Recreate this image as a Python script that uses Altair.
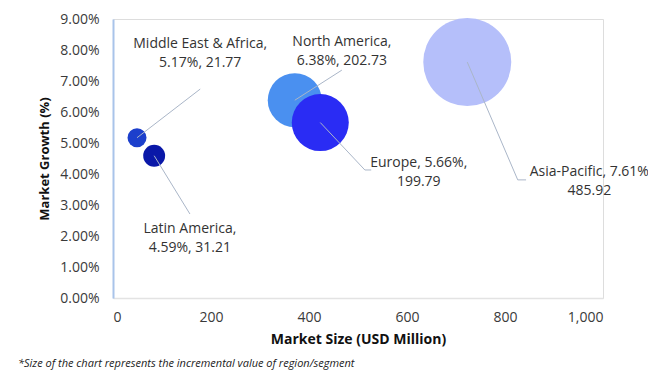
import altair as alt
import pandas as pd

# Data
regions = ["Middle East & Africa", "Latin America", "North America", "Europe", "Asia-Pacific"]
market_size = [49, 84, 371, 423, 723]            # x position (USD Million)
market_growth = [5.17, 4.59, 6.38, 5.66, 7.61]   # y position (%)
label_value = [21.77, 31.21, 202.73, 199.79, 485.92]
incremental = [3.6, 4.8, 29.2, 32.5, 77.4]       # bubble size (incremental value)
colors = ["#1c3fcc", "#0a18a8", "#4a90f0", "#2a2cf4", "#b5bffa"]

# label anchors (data units, first line) and leader-line ends
label_x = [178, 157, 467, 624, 972]
label_y = [8.19, 2.23, 8.26, 4.35, 4.06]
line_end_x = [178, 157, 467, 514, 826]
line_end_y = [6.74, 2.71, 7.35, 4.13, 3.81]
elbow_end_x = [178, 157, 467, 527, 843]

lines = [
    ["Middle East & Africa,", "5.17%, 21.77"],
    ["Latin America,", "4.59%, 31.21"],
    ["North America,", "6.38%, 202.73"],
    ["Europe, 5.66%,", "199.79"],
    ["Asia-Pacific,  7.61%", "485.92"],
]

df = pd.DataFrame({
    "region": regions,
    "size": market_size,
    "growth": [g / 100 for g in market_growth],
    "inc": incremental,
    "lx": label_x,
    "ly": [v / 100 for v in label_y],
    "ex": line_end_x,
    "ey": [v / 100 for v in line_end_y],
    "ex2": elbow_end_x,
    "label": lines,
})

FONT = "Open Sans"

xscale = alt.Scale(domain=[0, 1000], nice=False, zero=True)
yscale = alt.Scale(domain=[0, 0.09], nice=False)

base = alt.Chart(df)

points = base.mark_circle(opacity=1).encode(
    x=alt.X("size:Q", scale=xscale,
            axis=alt.Axis(title="Market Size (USD Million)", tickCount=5,
                          format=",.0f", grid=False, ticks=False, domainColor="#e3e3e3",
                          domainWidth=1.5, labelPadding=12, titlePadding=8, labelOverlap=False,
                          labelFontSize=14, titleFontSize=14, labelColor="#3a3a3a",
                          titleColor="#111", titleFontWeight="bold", labelFont=FONT, titleFont=FONT)),
    y=alt.Y("growth:Q", scale=yscale,
            axis=alt.Axis(title="Market Growth (%)", tickCount=9,
                          format=".2%", grid=False, ticks=False, domainColor="#a9c4ea",
                          domainWidth=2, labelPadding=14, titlePadding=8, labelOverlap=False,
                          labelSeparation=0,
                          labelFontSize=14, titleFontSize=13, labelColor="#3a3a3a",
                          titleColor="#111", titleFontWeight="bold", labelFont=FONT, titleFont=FONT)),
    size=alt.Size("inc:Q", scale=alt.Scale(domain=[0, 77.4], range=[0, 7744]), legend=None),
    color=alt.Color("region:N", scale=alt.Scale(domain=regions, range=colors), legend=None),
)

leader = base.mark_rule(color="#aab6c8", strokeWidth=1).encode(
    x="size:Q", y="growth:Q", x2="ex:Q", y2="ey:Q"
)
elbow = base.mark_rule(color="#aab6c8", strokeWidth=1).encode(
    x="ex:Q", y="ey:Q", x2="ex2:Q"
)

labels = base.mark_text(font=FONT, fontSize=14, color="#333", align="center",
                        baseline="middle", lineHeight=19).encode(
    x="lx:Q", y="ly:Q", text="label"
)

chart = alt.layer(points, leader, elbow, labels).properties(
    width=490, height=279,
    autosize=alt.AutoSizeParams(type="none"),
    padding={"left": 105, "top": 11, "right": 45, "bottom": 73},
    title=alt.TitleParams(
        "*Size of the chart represents the incremental value of region/segment",
        orient="bottom", anchor="start", frame="group", fontSize=11, fontStyle="italic",
        fontWeight="normal", font=FONT, color="#222", dx=-95, offset=12,
    ),
).configure_view(stroke=None).configure(background="white")

chart.save("out.html", embed_options={"renderer": "svg", "actions": False})
